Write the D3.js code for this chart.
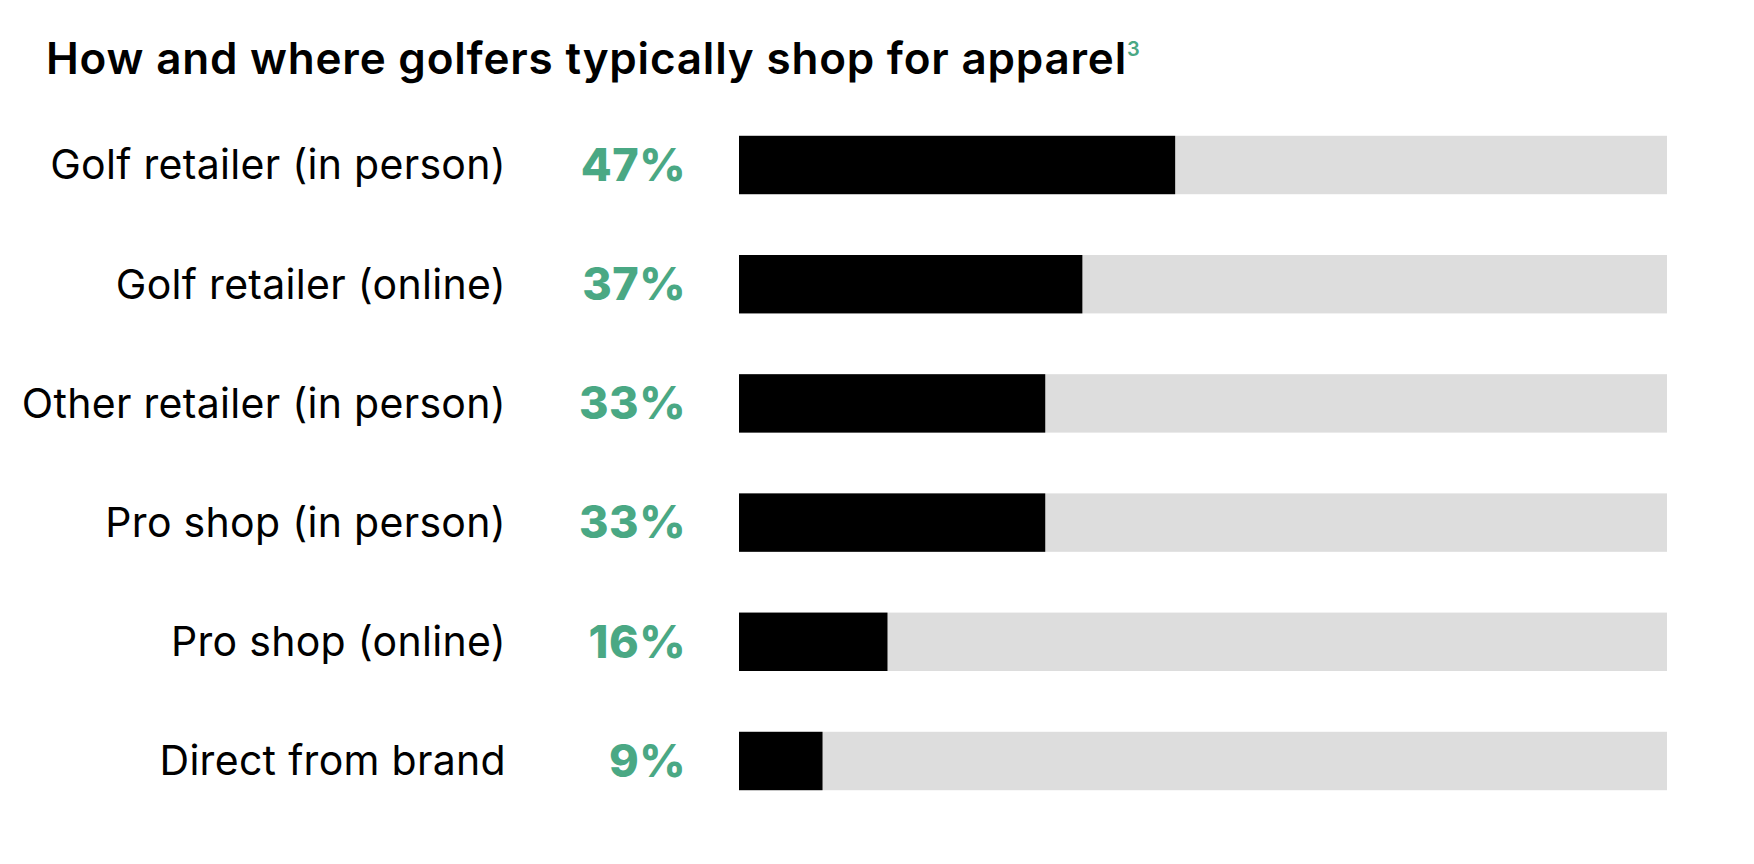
<!DOCTYPE html>
<html><head><meta charset="utf-8">
<script src="https://cdn.jsdelivr.net/npm/d3@7"></script>
<style>body{margin:0;background:#fff}</style></head>
<body><svg id="c" width="1754" height="864"></svg>
<script>
const categories = ["Golf retailer (in person)","Golf retailer (online)","Other retailer (in person)","Pro shop (in person)","Pro shop (online)","Direct from brand"];
const values = [47,37,33,33,16,9];
const labels = ["47%","37%","33%","33%","16%","9%"];
const svg = d3.select("#c");
const font = "Inter, 'Noto Sans', sans-serif";
const x = d3.scaleLinear().domain([0,100]).range([739,1667]);
const y = d3.scaleBand().domain(categories).range([106,820]).paddingInner(0.51).paddingOuter(0.25);
const t = svg.append("text").attr("x",46).attr("y",74).attr("font-family",font).attr("font-size",44).attr("letter-spacing",0.8).attr("font-weight",600).attr("fill","#000").text("How and where golfers typically shop for apparel");
t.append("tspan").attr("font-size",20).attr("dy",-18).attr("fill","#4aa884").text("3");
const g = svg.selectAll("g.row").data(categories).join("g");
g.append("rect").attr("x",x(0)).attr("width",x(100)-x(0)).attr("y",d=>y(d)).attr("height",y.bandwidth()).attr("fill","#dddddd");
g.append("rect").attr("x",x(0)).attr("width",(d,i)=>x(values[i])-x(0)).attr("y",d=>y(d)).attr("height",y.bandwidth()).attr("fill","#000");
g.append("text").attr("x",506).attr("y",d=>y(d)+y.bandwidth()/2).attr("dy","0.35em").attr("text-anchor","end").attr("font-family",font).attr("font-size",41).attr("letter-spacing",0.3).attr("fill","#000").text(d=>d);
g.append("text").attr("x",686).attr("y",d=>y(d)+y.bandwidth()/2).attr("dy","0.35em").attr("text-anchor","end").attr("font-family",font).attr("font-size",45).attr("letter-spacing",0.5).attr("font-weight",800).attr("fill","#4aa884").text((d,i)=>labels[i]);
</script></body></html>
